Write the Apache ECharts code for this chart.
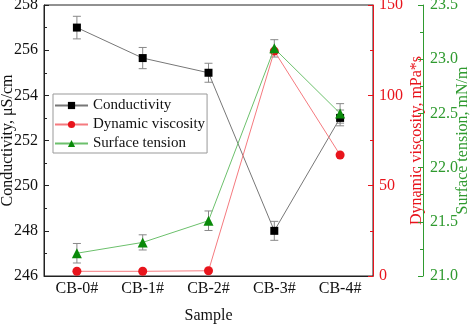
<!DOCTYPE html>
<html><head><meta charset="utf-8">
<script src="https://cdn.jsdelivr.net/npm/echarts@6/dist/echarts.min.js"></script>
<style>html,body{margin:0;padding:0;background:#fff}#c{width:474px;height:325px}</style>
</head><body><div id="c"></div>
<script>
const categories = ['CB-0#', 'CB-1#', 'CB-2#', 'CB-3#', 'CB-4#'];
const conductivity = [257.0, 255.65, 255.0, 248.0, 253.0];
const conductivityErr = [0.5, 0.47, 0.42, 0.42, 0.35];
const viscosity = [2.6, 2.6, 2.9, 124.5, 67.0];
const tension = [21.21, 21.31, 21.51, 23.10, 22.50];
const tensionErr = [0.09, 0.07, 0.09, 0.08, 0.09];

const FONT = 'Liberation Serif';
const RED = '#e8141c', GREEN = '#2f9a2f';

function errData(vals, errs) { return vals.map((v, i) => [i, v - errs[i], v + errs[i]]); }
function errRender(params, api) {
  const x = api.value(0);
  const lo = api.coord([x, api.value(1)]);
  const hi = api.coord([x, api.value(2)]);
  const w = 4;
  const st = { stroke: '#888', lineWidth: 1 };
  return { type: 'group', children: [
    { type: 'line', shape: { x1: lo[0], y1: lo[1], x2: hi[0], y2: hi[1] }, style: st },
    { type: 'line', shape: { x1: lo[0] - w, y1: lo[1], x2: lo[0] + w, y2: lo[1] }, style: st },
    { type: 'line', shape: { x1: hi[0] - w, y1: hi[1], x2: hi[0] + w, y2: hi[1] }, style: st }
  ]};
}

const chart = echarts.init(document.getElementById('c'));
chart.setOption({
  animation: false,
  textStyle: { fontFamily: FONT },
  grid: { left: 44, right: 101, top: 5, bottom: 49, outerBoundsMode: 'none', containLabel: false,
    show: true, borderColor: '#222', borderWidth: 1, backgroundColor: 'transparent' },
  legend: {
    orient: 'vertical', left: 53, top: 94, itemGap: 4, itemWidth: 33, itemHeight: 9,
    padding: [4, 2, 2, 1], borderColor: '#999', borderWidth: 1, backgroundColor: '#fff',
    textStyle: { fontFamily: FONT, fontSize: 15, color: '#111' },
    data: ['Conductivity', 'Dynamic viscosity', 'Surface tension']
  },
  xAxis: [{
    type: 'category', data: categories, boundaryGap: true,
    axisLine: { lineStyle: { color: '#222' } },
    axisTick: { alignWithLabel: true, inside: true, length: 5, lineStyle: { color: '#222' } },
    axisLabel: { fontFamily: FONT, fontSize: 16, color: '#111', margin: 5 },
    name: 'Sample', nameLocation: 'middle', nameGap: 32, nameMoveOverlap: false,
    nameTextStyle: { fontFamily: FONT, fontSize: 16, color: '#111' }
  }, {
    type: 'category', data: categories, boundaryGap: true, position: 'bottom',
    axisLine: { show: false },
    axisTick: { alignWithLabel: false, inside: true, length: 3, lineStyle: { color: '#222' } },
    axisLabel: { show: false }
  }],
  yAxis: [{
    type: 'value', min: 246, max: 258, interval: 2, position: 'left',
    axisLine: { show: true, lineStyle: { color: '#222' } },
    axisTick: { show: true, inside: true, length: 5, lineStyle: { color: '#222' } },
    minorTick: { show: true, splitNumber: 2, length: 3, lineStyle: { color: '#222' } },
    splitLine: { show: false },
    axisLabel: { fontFamily: FONT, fontSize: 16, color: '#111', margin: 6 },
    name: 'Conductivity, μS/cm', nameLocation: 'middle', nameGap: 28, nameMoveOverlap: false,
    nameTextStyle: { fontFamily: FONT, fontSize: 16, color: '#111' }
  }, {
    type: 'value', min: 0, max: 150, interval: 50, position: 'right',
    axisLine: { show: true, lineStyle: { color: RED } },
    axisTick: { show: true, inside: true, length: 5, lineStyle: { color: RED } },
    minorTick: { show: true, splitNumber: 2, length: 3, lineStyle: { color: RED } },
    splitLine: { show: false },
    axisLabel: { fontFamily: FONT, fontSize: 16, color: RED, margin: 6 },
    name: 'Dynamic viscosity, mPa*s', nameLocation: 'middle', nameGap: 36, nameRotate: 90, nameMoveOverlap: false,
    nameTextStyle: { fontFamily: FONT, fontSize: 16, color: RED }
  }, {
    type: 'value', min: 21.0, max: 23.5, interval: 0.5, position: 'right', offset: 50,
    axisLine: { show: true, lineStyle: { color: GREEN } },
    axisTick: { show: true, inside: true, length: 5, lineStyle: { color: GREEN } },
    minorTick: { show: true, splitNumber: 2, length: 3, lineStyle: { color: GREEN } },
    splitLine: { show: false },
    axisLabel: { fontFamily: FONT, fontSize: 16, color: GREEN, margin: 7, formatter: v => v.toFixed(1) },
    name: 'Surface tension, mN/m', nameLocation: 'middle', nameGap: 32, nameRotate: 90, nameMoveOverlap: false,
    nameTextStyle: { fontFamily: FONT, fontSize: 16, color: GREEN }
  }],
  series: [
    { type: 'custom', yAxisIndex: 0, renderItem: errRender, data: errData(conductivity, conductivityErr), z: 1, silent: true },
    { type: 'custom', yAxisIndex: 2, renderItem: errRender, data: errData(tension, tensionErr), z: 1, silent: true },
    { name: 'Conductivity', type: 'line', yAxisIndex: 0, data: conductivity,
      symbol: 'rect', symbolSize: 8, itemStyle: { color: '#000' },
      lineStyle: { color: '#777', width: 1 }, z: 3 },
    { name: 'Dynamic viscosity', type: 'line', yAxisIndex: 1, data: viscosity,
      symbol: 'circle', symbolSize: 9, itemStyle: { color: RED },
      lineStyle: { color: '#f57a7f', width: 1 }, z: 3 },
    { name: 'Surface tension', type: 'line', yAxisIndex: 2, data: tension,
      symbol: 'triangle', symbolSize: 10, itemStyle: { color: '#0a8a0a' },
      lineStyle: { color: '#6cc06c', width: 1 }, z: 4 }
  ]
});
</script></body></html>
